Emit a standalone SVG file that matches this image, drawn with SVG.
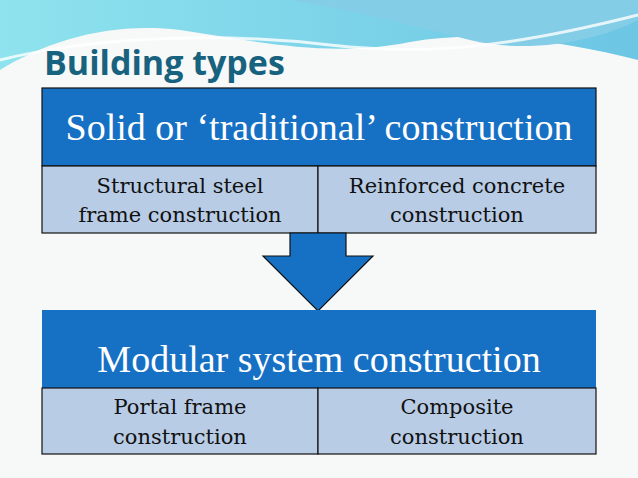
<svg xmlns="http://www.w3.org/2000/svg" width="638" height="478" viewBox="0 0 638 478">
<defs>
<linearGradient id="w1" x1="0" y1="0" x2="1" y2="0"><stop offset="0" stop-color="#8fe3ee"/><stop offset="1" stop-color="#6cc6e4"/></linearGradient>
<style>
.hd{fill:#1670c4;stroke:#111;stroke-width:1.2}
.cell{fill:#b8cce6;stroke:#111;stroke-width:1.2}
.ht{font-family:"Liberation Serif",serif;font-size:38px;fill:#fff;text-anchor:middle}
.ct{font-family:"DejaVu Serif",serif;font-size:21px;fill:#111;text-anchor:middle}
</style>
</defs>
<rect width="638" height="478" fill="#f7f8f8"/>
<path d="M0 0H638V60C560 40 480 30 410 42C330 58 260 42 180 30C110 22 50 40 0 70Z" fill="url(#w1)"/>
<path d="M290 0H638V20C600 40 530 55 470 40C400 22 340 8 290 0Z" fill="#84cde6"/>
<path d="M0 60C80 40 200 30 330 45C420 55 500 50 638 15" fill="none" stroke="#fff" stroke-width="3" opacity="0.8"/>
<text x="44" y="75" font-family="'Open Sans','Liberation Sans',sans-serif" font-weight="bold" font-size="34" fill="#17627e">Building types</text>
<g id="top">
<rect class="hd" x="42" y="88" width="554" height="78"/>
<text class="ht" x="319" y="140">Solid or ‘traditional’ construction</text>
</g>
<g id="steel"><rect class="cell" x="42" y="166" width="276" height="67"/>
<text class="ct" x="180" y="193">Structural steel</text><text class="ct" x="180" y="222">frame construction</text></g>
<g id="concrete"><rect class="cell" x="318" y="166" width="278" height="67"/>
<text class="ct" x="457" y="193">Reinforced concrete</text><text class="ct" x="457" y="222">construction</text></g>
<g id="connectors">
<path d="M290 233V256H263L318 311L373 256H346V233Z" fill="#1670c4" stroke="#111" stroke-width="1.2"/>
</g>
<g id="modular">
<rect x="42" y="310" width="554" height="78" fill="#1670c4"/>
<text class="ht" x="319" y="372" font-size="42">Modular system construction</text>
</g>
<g id="portal"><rect class="cell" x="42" y="388" width="276" height="66"/>
<text class="ct" x="180" y="414">Portal frame</text><text class="ct" x="180" y="444">construction</text></g>
<g id="composite"><rect class="cell" x="318" y="388" width="278" height="66"/>
<text class="ct" x="457" y="414">Composite</text><text class="ct" x="457" y="444">construction</text></g>
</svg>
